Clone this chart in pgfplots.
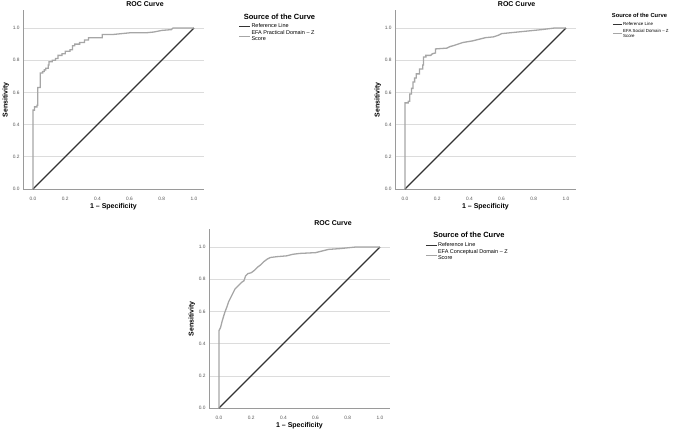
\documentclass[border=0pt]{standalone}
\usepackage{fontspec}
\setmainfont{Liberation Sans}
\usepackage{pgfplots}
\pgfplotsset{compat=1.18}

\definecolor{roc}{HTML}{A6A6A6}
\definecolor{refl}{HTML}{333333}
\definecolor{gridc}{HTML}{DCDCDC}
\definecolor{axisc}{HTML}{9A9A9A}
\definecolor{tickc}{HTML}{555555}

\pgfplotsset{
  rocaxis/.style={
    scale only axis, width=180.3pt, height=178.7pt,
    xmin=-0.06, xmax=1.06, ymin=0, ymax=1.11,
    axis x line=bottom, axis y line=left,
    axis line style={draw=axisc, line width=0.6pt, -},
    xtick={0,0.2,0.4,0.6,0.8,1}, ytick={0,0.2,0.4,0.6,0.8,1},
    tick style={draw=none},
    ymajorgrids, major grid style={draw=gridc, line width=0.6pt},
    /pgf/number format/assume math mode=true,
    /pgf/number format/.cd, fixed, fixed zerofill, precision=1, /pgfplots/.cd,
    tick label style={font=\fontsize{4.8}{5}\selectfont, text=tickc},
    yticklabel style={anchor=east, inner sep=0pt, xshift=-1.5pt},
    xticklabel style={anchor=north, inner sep=0pt, yshift=-6pt},
    xlabel={1 -- Specificity}, ylabel={Sensitivity},
    label style={font=\bfseries\fontsize{7}{8}\selectfont},
    xlabel style={at={(axis description cs:0.5,0)}, anchor=center, yshift=-18pt},
    ylabel style={at={(axis description cs:0,0.5)}, anchor=center, yshift=17.5pt},
    clip=false,
    legend cell align=left,
    legend image code/.code={\draw[##1] (0pt,0pt) -- (11pt,0pt);},
    legend style={draw=none, fill=none, inner sep=0pt, row sep=0.6pt,
      anchor=north west, font=\fontsize{5.5}{6}\selectfont,
      nodes={inner sep=0.6pt}, cells={align=left}},
  },
  refline/.style={draw=refl, line width=1.3pt},
  rocline/.style={draw=roc, line width=1.3pt},
}

\begin{document}
\begin{tikzpicture}
\useasboundingbox (0pt,0pt) rectangle (685pt,431pt);

% Practical domain
\begin{axis}[rocaxis, at={(23.3pt,242pt)}, anchor=south west,
  legend style={at={(rel axis cs:1.193,0.93)}}]
\addplot[refline] coordinates {(0,0) (1,1)};
\addlegendentry{Reference Line}
\addplot[rocline] coordinates {
 (0,0) (0,0.49) (0.01,0.49) (0.01,0.51) (0.025,0.51) (0.025,0.52) (0.03,0.52)
 (0.03,0.63) (0.045,0.63) (0.045,0.72) (0.06,0.72) (0.06,0.73) (0.07,0.73)
 (0.07,0.74) (0.08,0.74) (0.08,0.75) (0.095,0.75) (0.095,0.77) (0.1,0.77)
 (0.1,0.79) (0.12,0.79) (0.12,0.80) (0.14,0.80) (0.14,0.81) (0.155,0.81)
 (0.155,0.83) (0.18,0.83) (0.18,0.84) (0.2,0.84) (0.2,0.855) (0.23,0.855)
 (0.23,0.865) (0.245,0.865) (0.245,0.89) (0.26,0.89) (0.26,0.90) (0.29,0.90)
 (0.29,0.91) (0.32,0.91) (0.32,0.925) (0.345,0.925) (0.345,0.94) (0.43,0.94)
 (0.43,0.96) (0.5,0.96) (0.55,0.965) (0.6,0.97) (0.7,0.97) (0.75,0.975)
 (0.8,0.985) (0.86,0.99) (0.87,1.0) (1,1)};
\addlegendentry{EFA Practical Domain -- Z\\Score}
\node[font=\bfseries\fontsize{7}{8}\selectfont] at (rel axis cs:0.675,1.035) {ROC Curve};
\node[font=\bfseries\fontsize{7.5}{8}\selectfont] at (rel axis cs:1.421,0.966) {Source of the Curve};
\end{axis}

% Social domain
\begin{axis}[rocaxis, at={(395.3pt,242pt)}, anchor=south west,
  legend style={at={(rel axis cs:1.202,0.937)}, font=\fontsize{4.4}{5}\selectfont},
  legend image code/.code={\draw[#1] (0pt,0pt) -- (9pt,0pt);}]
\addplot[refline] coordinates {(0,0) (1,1)};
\addlegendentry{Reference Line}
\addplot[rocline] coordinates {
 (0,0) (0,0.535) (0.02,0.535) (0.02,0.545) (0.03,0.545) (0.03,0.59) (0.04,0.59)
 (0.04,0.625) (0.05,0.625) (0.05,0.665) (0.06,0.665) (0.06,0.69) (0.07,0.69)
 (0.07,0.715) (0.09,0.715) (0.09,0.745) (0.11,0.745) (0.11,0.77) (0.115,0.77)
 (0.115,0.82) (0.13,0.82) (0.13,0.83) (0.16,0.83) (0.17,0.84) (0.19,0.845)
 (0.19,0.87) (0.26,0.875) (0.28,0.885) (0.3,0.89) (0.33,0.90) (0.36,0.91)
 (0.42,0.92) (0.46,0.93) (0.5,0.94) (0.55,0.945) (0.58,0.955) (0.6,0.965)
 (0.65,0.97) (0.75,0.98) (0.85,0.99) (0.93,1.0) (1,1)};
\addlegendentry{EFA Social Domain -- Z\\Score}
\node[font=\bfseries\fontsize{7}{8}\selectfont] at (rel axis cs:0.673,1.035) {ROC Curve};
\node[font=\bfseries\fontsize{5.8}{6}\selectfont] at (rel axis cs:1.354,0.974) {Source of the Curve};
\end{axis}

% Conceptual domain
\begin{axis}[rocaxis, at={(209.3pt,23pt)}, anchor=south west,
  legend style={at={(rel axis cs:1.196,0.93)}}]
\addplot[refline] coordinates {(0,0) (1,1)};
\addlegendentry{Reference Line}
\addplot[rocline] coordinates {
 (0,0) (0,0.48) (0.01,0.5) (0.02,0.54) (0.035,0.59) (0.05,0.63) (0.06,0.66)
 (0.07,0.68) (0.08,0.70) (0.1,0.74) (0.12,0.76) (0.14,0.78) (0.155,0.79)
 (0.165,0.82) (0.18,0.835) (0.2,0.84) (0.22,0.855) (0.24,0.875) (0.26,0.89)
 (0.28,0.91) (0.3,0.925) (0.32,0.935) (0.36,0.94) (0.42,0.945) (0.46,0.955)
 (0.5,0.96) (0.6,0.965) (0.64,0.975) (0.68,0.985) (0.75,0.99) (0.8,0.995)
 (0.85,1.0) (1,1)};
\addlegendentry{EFA Conceptual Domain -- Z\\Score}
\node[font=\bfseries\fontsize{7}{8}\selectfont] at (rel axis cs:0.686,1.035) {ROC Curve};
\node[font=\bfseries\fontsize{7.5}{8}\selectfont] at (rel axis cs:1.44,0.968) {Source of the Curve};
\end{axis}
\end{tikzpicture}
\end{document}
